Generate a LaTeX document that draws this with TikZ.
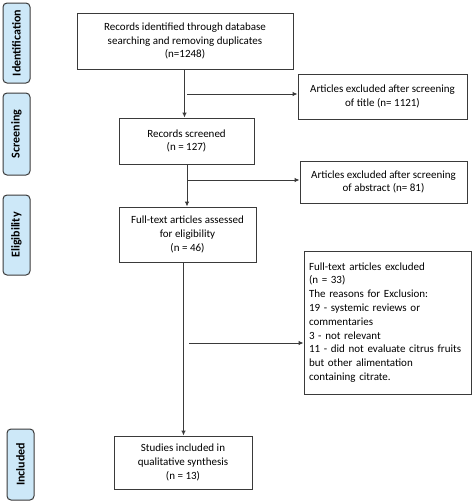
\documentclass[tikz,border=0pt]{standalone}
\usepackage{fontspec}
\setmainfont{Carlito}
\usetikzlibrary{arrows.meta}
\definecolor{lineg}{HTML}{3A3A3A}
\definecolor{labfill}{HTML}{CDE8F8}
\tikzset{
  box/.style={draw=lineg, line width=0.9pt, align=center, inner sep=2pt, font=\fontsize{11}{13.8}\selectfont},
  side/.style={draw=lineg, line width=1pt, fill=labfill, rounded corners=4pt, font=\bfseries\fontsize{12}{14}\selectfont, rotate=90, inner sep=0pt},
  conn/.style={draw=lineg, line width=0.9pt},
  arr/.style={conn, -{Latex[length=5pt,width=4.5pt]}}
}
\begin{document}
\begin{tikzpicture}[x=1pt,y=-1pt]
\useasboundingbox (0,0) rectangle (474,504);
% side labels
\node[side, minimum width=80pt, minimum height=27pt] (lid) at (16.5,43) {Identification};
\node[side, minimum width=82pt, minimum height=27pt] (lsc) at (16.5,134) {Screening};
\node[side, minimum width=80pt, minimum height=27pt] (lel) at (16.5,235) {Eligibility};
\node[side, minimum width=71pt, minimum height=27pt] (lin) at (20.5,464.5) {Included};
% boxes
\node[box, minimum width=216pt, minimum height=56pt] (b1) at (185,41) {Records identified through database\\searching and removing duplicates\\(n=1248)};
\node[box, minimum width=169pt, minimum height=45pt] (t1) at (382.5,96.5) {Articles excluded after screening\\of title (n= 1121)};
\node[box, minimum width=135pt, minimum height=46pt] (b2) at (186.5,141) {Records screened\\(n = 127)};
\node[box, minimum width=167pt, minimum height=42pt] (t2) at (383.5,182) {Articles excluded after screening\\of abstract (n= 81)};
\node[box, minimum width=137pt, minimum height=55pt] (b3) at (187.5,234.5) {Full-text articles assessed\\for eligibility\\(n = 46)};
\node[box, minimum height=143pt, text width=157pt, align=left, inner xsep=5pt] (t3) at (387.5,322.5) {Full-text articles excluded\\(n = 33)\\The reasons for Exclusion:\\19 - systemic reviews or\\commentaries\\3 - not relevant\\11 - did not evaluate citrus fruits\\but other alimentation\\containing citrate.};
\node[box, minimum width=138pt, minimum height=53pt] (b4) at (183,462.5) {Studies included in\\qualitative synthesis\\(n = 13)};
% connectors
\coordinate (v1) at (184.5,0);
\draw[arr] (v1 |- b1.south) -- (v1 |- b2.north);
\coordinate (j1) at (187,94);
\draw[arr] (j1) -- (j1 -| t1.west);
\coordinate (v2) at (187,0);
\draw[arr] (v2 |- b2.south) -- (v2 |- b3.north);
\coordinate (j2) at (188,180);
\draw[arr] (j2) -- (j2 -| t2.west);
\coordinate (v3) at (183.5,0);
\draw[arr] (v3 |- b3.south) -- (v3 |- b4.north);
\coordinate (j3) at (189,343);
\draw[arr] (j3) -- (j3 -| t3.west);
\end{tikzpicture}
\end{document}
